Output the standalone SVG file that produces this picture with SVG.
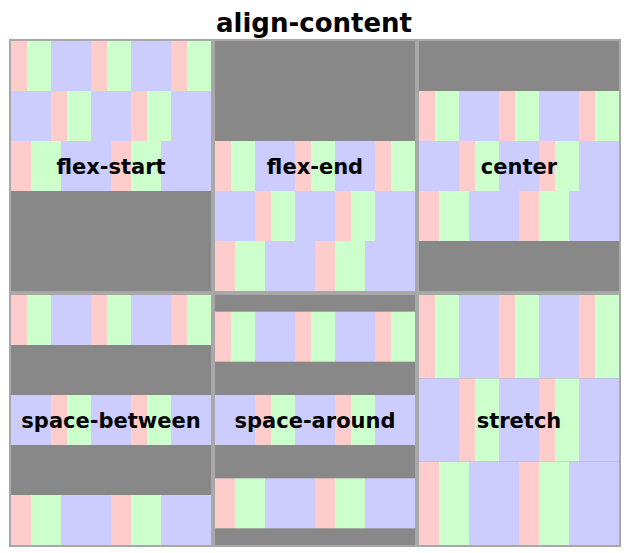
<svg xmlns="http://www.w3.org/2000/svg" width="628" height="553" viewBox="0 0 628 553">
<style>
.p{fill:#ffcccc}.g{fill:#ccffcc}.b{fill:#ccccff}
.bg{fill:#888888}.bd{fill:none;stroke:#a8a8a8;stroke-width:2}
.t{font-family:"DejaVu Sans",Verdana,sans-serif;font-weight:bold;fill:#000;text-anchor:middle}
</style>
<defs>
<g id="rA"><rect class="p" x="0" width="16" height="50"/><rect class="g" x="16" width="24" height="50"/><rect class="b" x="40" width="40" height="50"/><rect class="p" x="80" width="16" height="50"/><rect class="g" x="96" width="24" height="50"/><rect class="b" x="120" width="40" height="50"/><rect class="p" x="160" width="16" height="50"/><rect class="g" x="176" width="24" height="50"/></g>
<g id="rB"><rect class="b" x="0" width="40" height="50"/><rect class="p" x="40" width="16" height="50"/><rect class="g" x="56" width="24" height="50"/><rect class="b" x="80" width="40" height="50"/><rect class="p" x="120" width="16" height="50"/><rect class="g" x="136" width="24" height="50"/><rect class="b" x="160" width="40" height="50"/></g>
<g id="rC"><rect class="p" x="0" width="20" height="50"/><rect class="g" x="20" width="30" height="50"/><rect class="b" x="50" width="50" height="50"/><rect class="p" x="100" width="20" height="50"/><rect class="g" x="120" width="30" height="50"/><rect class="b" x="150" width="50" height="50"/></g>
</defs>
<text class="t" x="314" y="32" font-size="26">align-content</text>
<g id="flex-start" transform="translate(11,41)"><rect class="bg" width="200" height="250"/><use href="#rA" y="0"/><use href="#rB" y="50"/><use href="#rC" y="100"/><rect class="bd" x="-1" y="-1" width="202" height="252"/><text class="t" x="100" y="133" font-size="21">flex-start</text></g>
<g id="flex-end" transform="translate(215,41)"><rect class="bg" width="200" height="250"/><use href="#rA" y="100"/><use href="#rB" y="150"/><use href="#rC" y="200"/><rect class="bd" x="-1" y="-1" width="202" height="252"/><text class="t" x="100" y="133" font-size="21">flex-end</text></g>
<g id="center" transform="translate(419,41)"><rect class="bg" width="200" height="250"/><use href="#rA" y="50"/><use href="#rB" y="100"/><use href="#rC" y="150"/><rect class="bd" x="-1" y="-1" width="202" height="252"/><text class="t" x="100" y="133" font-size="21">center</text></g>
<g id="space-between" transform="translate(11,295)"><rect class="bg" width="200" height="250"/><use href="#rA" y="0"/><use href="#rB" y="100"/><use href="#rC" y="200"/><rect class="bd" x="-1" y="-1" width="202" height="252"/><text class="t" x="100" y="133" font-size="21">space-between</text></g>
<g id="space-around" transform="translate(215,295)"><rect class="bg" width="200" height="250"/><use href="#rA" y="16.67"/><use href="#rB" y="100"/><use href="#rC" y="183.33"/><rect class="bd" x="-1" y="-1" width="202" height="252"/><text class="t" x="100" y="133" font-size="21">space-around</text></g>
<g id="stretch" transform="translate(419,295)"><rect class="bg" width="200" height="250"/><use href="#rA" transform="scale(1,1.6667)"/><use href="#rB" transform="translate(0,83.33) scale(1,1.6667)"/><use href="#rC" transform="translate(0,166.67) scale(1,1.6667)"/><rect class="bd" x="-1" y="-1" width="202" height="252"/><text class="t" x="100" y="133" font-size="21">stretch</text></g>
</svg>
